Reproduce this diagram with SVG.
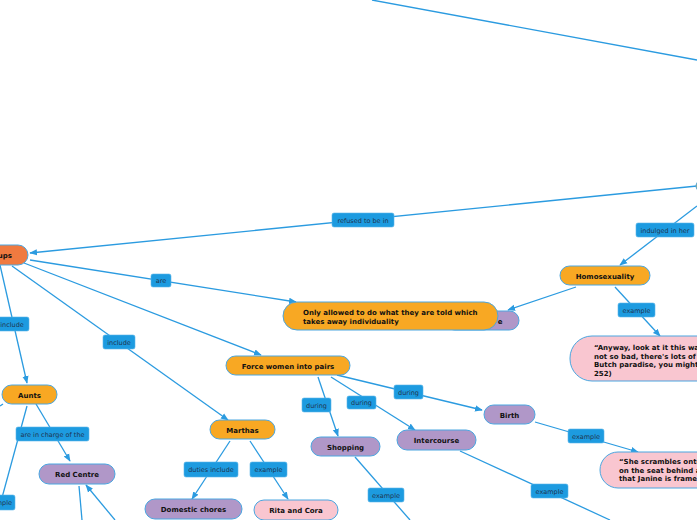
<svg xmlns="http://www.w3.org/2000/svg" width="697" height="520" viewBox="0 0 697 520">
<style>
.c{stroke:#2b9be0;stroke-width:1.3;fill:none;marker-end:url(#a)}
.n{stroke:#2b9be0;stroke-width:1.3;fill:none}
.l rect{fill:#1d9be0;stroke:#5ab6ea;stroke-width:.6}
.l text{font-family:"DejaVu Sans",Verdana,sans-serif;font-size:6.5px;fill:#1f3550;text-anchor:middle}
.nd rect{stroke:#4aa6e0;stroke-width:1}
.nd text{font-family:"DejaVu Sans",Verdana,sans-serif;font-size:7px;font-weight:bold;fill:#111;text-anchor:middle}
.o{fill:#f8a823}.p{fill:#b097c8}.k{fill:#f9c6d0}.r{fill:#f07a40}
.t{text-anchor:start!important}
.e{text-anchor:end!important}
</style>
<defs><marker id="a" viewBox="0 0 10 10" refX="9" refY="5" markerWidth="6" markerHeight="6" orient="auto"><path d="M0,1L10,5L0,9z" fill="#2b9be0"/></marker></defs>
<rect width="697" height="520" fill="#fff"/>
<g id="connectors">
<path class="n" d="M372,0L697,60"/>
<path class="c" d="M697,186L30,253"/>
<path class="c" d="M697,206L620,265"/>
<path class="c" d="M576,287L508,310"/>
<path class="c" d="M615,287L660,336"/>
<path class="c" d="M30,260L296,302"/>
<path class="c" d="M0,265L27,383"/>
<path class="c" d="M12,266L228,420"/>
<path class="c" d="M24,263L261,355"/>
<path class="c" d="M318,377L338,436"/>
<path class="c" d="M331,377L415,430"/>
<path class="c" d="M337,375L482,410"/>
<path class="c" d="M535,422L638,452"/>
<path class="n" d="M460,451L610,520"/>
<path class="n" d="M355,457L410,520"/>
<path class="c" d="M230,441L192,499"/>
<path class="c" d="M250,441L288,499"/>
<path class="n" d="M27,406L0,505"/>
<path class="n" d="M3,404L0,406"/>
<path class="c" d="M36,404L70,461"/>
<path class="n" d="M79,486L82,520"/>
<path class="c" d="M115,520L86,485"/>
</g>
<g class="l">
<rect x="332" y="213" width="62" height="14" rx="2"/><text x="363" y="222.5">refused to be in</text>
<rect x="636" y="223" width="58" height="14" rx="2"/><text x="665" y="232.5">indulged in her</text>
<rect x="618" y="303" width="37" height="14" rx="2"/><text x="636.5" y="312.5">example</text>
<rect x="151" y="274" width="20" height="13" rx="2"/><text x="161" y="283">are</text>
<rect x="-5" y="317" width="34" height="14" rx="2"/><text x="12" y="326.5">include</text>
<rect x="103" y="335" width="32" height="14" rx="2"/><text x="119" y="344.5">include</text>
<rect x="302" y="398" width="29" height="14" rx="2"/><text x="316.5" y="407.5">during</text>
<rect x="347" y="396" width="29" height="13" rx="2"/><text x="361.5" y="405">during</text>
<rect x="394" y="385" width="29" height="14" rx="2"/><text x="408.5" y="394.5">during</text>
<rect x="568" y="429" width="36" height="14" rx="2"/><text x="586" y="438.5">example</text>
<rect x="531" y="484" width="37" height="14" rx="2"/><text x="549.5" y="493.5">example</text>
<rect x="368" y="488" width="36" height="14" rx="2"/><text x="386" y="497.5">example</text>
<rect x="184" y="462" width="54" height="15" rx="2"/><text x="211" y="472">duties include</text>
<rect x="250" y="462" width="37" height="15" rx="2"/><text x="268.5" y="472">example</text>
<rect x="16" y="427" width="73" height="14" rx="2"/><text x="52.5" y="436.5">are in charge of the</text>
<rect x="-20" y="495" width="35" height="15" rx="2"/><text x="-2" y="505">example</text>
</g>
<g id="n-right" class="nd"><rect x="696" y="180" width="30" height="12" rx="6" class="o"/></g>
<g id="n-groups" class="nd"><rect x="-60" y="245" width="88" height="20" rx="10" class="r"/><text class="e" x="12" y="258">Groups</text></g>
<g id="n-homo" class="nd"><rect x="560" y="266" width="90" height="19" rx="9.5" class="o"/><text x="605" y="278.5">Homosexuality</text></g>
<g id="n-purple" class="nd"><rect x="445" y="311" width="74" height="19" rx="9.5" class="p"/><text x="500" y="324">e</text></g>
<g id="n-only" class="nd"><rect x="283" y="302" width="215" height="28" rx="14" class="o"/><text class="t" x="303" y="315">Only allowed to do what they are told which</text><text class="t" x="303" y="323.5">takes away individuality</text></g>
<g id="n-anyway" class="nd"><rect x="570" y="336" width="160" height="45" rx="22" class="k"/><text class="t" x="594" y="350">“Anyway, look at it this way</text><text class="t" x="594" y="358.5">not so bad, there's lots of</text><text class="t" x="594" y="367">Butch paradise, you might</text><text class="t" x="594" y="375.5">252)</text></g>
<g id="n-aunts" class="nd"><rect x="2" y="385" width="55" height="19" rx="9.5" class="o"/><text x="29.5" y="397.5">Aunts</text></g>
<g id="n-force" class="nd"><rect x="226" y="356" width="124" height="19" rx="9.5" class="o"/><text x="288" y="368.5">Force women into pairs</text></g>
<g id="n-marthas" class="nd"><rect x="210" y="420" width="65" height="19" rx="9.5" class="o"/><text x="242.5" y="432.5">Marthas</text></g>
<g id="n-shopping" class="nd"><rect x="311" y="437" width="69" height="19" rx="9.5" class="p"/><text x="345.5" y="449.5">Shopping</text></g>
<g id="n-intercourse" class="nd"><rect x="397" y="430" width="79" height="20" rx="10" class="p"/><text x="436.5" y="443">Intercourse</text></g>
<g id="n-birth" class="nd"><rect x="484" y="405" width="51" height="19" rx="9.5" class="p"/><text x="509.5" y="417.5">Birth</text></g>
<g id="n-scrambles" class="nd"><rect x="600" y="452" width="130" height="36" rx="18" class="k"/><text class="t" x="619" y="464">“She scrambles onto</text><text class="t" x="619" y="472.5">on the seat behind a</text><text class="t" x="619" y="481">that Janine is frame</text></g>
<g id="n-red" class="nd"><rect x="39" y="464" width="76" height="20" rx="10" class="p"/><text x="77" y="477">Red Centre</text></g>
<g id="n-domestic" class="nd"><rect x="145" y="499" width="97" height="20" rx="10" class="p"/><text x="193.5" y="512">Domestic chores</text></g>
<g id="n-rita" class="nd"><rect x="254" y="500" width="84" height="20" rx="10" class="k"/><text x="296" y="513">Rita and Cora</text></g>
</svg>
